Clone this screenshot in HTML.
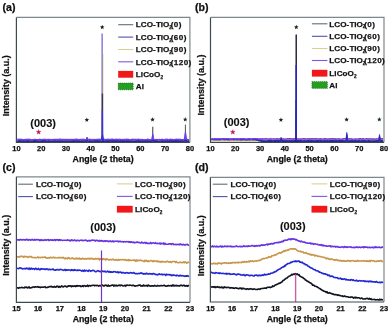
<!DOCTYPE html>
<html><head><meta charset="utf-8"><style>
html,body{margin:0;padding:0;background:#fff;width:391px;height:327px;overflow:hidden}
svg{filter:blur(0.3px)}
svg text{font-family:"Liberation Sans",sans-serif;fill:#111;stroke:#111;stroke-width:0.25px}
</style></head><body>
<svg width="391" height="327" viewBox="0 0 391 327" style="display:block;font-family:'Liberation Sans',sans-serif">
<rect width="391" height="327" fill="#fff"/>
<path d="M17.20,141.42 L18.10,141.77 L19.00,141.73 L19.90,141.48 L20.80,141.60 L21.70,141.57 L22.60,141.68 L23.50,141.74 L24.40,141.40 L25.30,141.36 L26.20,141.77 L27.10,141.57 L28.00,141.73 L28.90,141.35 L29.80,141.57 L30.70,141.71 L31.60,141.46 L32.50,141.82 L33.40,141.80 L34.30,141.37 L35.20,141.36 L36.10,141.62 L37.00,141.82 L37.90,141.54 L38.80,141.46 L39.70,141.56 L40.60,141.36 L41.50,141.46 L42.40,141.57 L43.30,141.60 L44.20,141.47 L45.10,141.47 L46.00,141.46 L46.90,141.58 L47.80,141.49 L48.70,141.36 L49.60,141.77 L50.50,141.63 L51.40,141.67 L52.30,141.44 L53.20,141.85 L54.10,141.78 L55.00,141.41 L55.90,141.52 L56.80,141.71 L57.70,141.71 L58.60,141.82 L59.50,141.56 L60.40,141.77 L61.30,141.69 L62.20,141.50 L63.10,141.64 L64.00,141.79 L64.90,141.77 L65.80,141.60 L66.70,141.64 L67.60,141.37 L68.50,141.47 L69.40,141.75 L70.30,141.56 L71.20,141.44 L72.10,141.62 L73.00,141.70 L73.90,141.69 L74.80,141.54 L75.70,141.57 L76.60,141.60 L77.50,141.74 L78.40,141.61 L79.30,141.55 L80.20,141.59 L81.10,141.36 L82.00,141.37 L82.90,141.70 L83.80,141.84 L84.70,141.65 L85.60,141.55 L86.50,141.44 L87.40,141.60 L88.30,141.84 L89.20,141.74 L90.10,141.62 L91.00,141.78 L91.90,141.47 L92.80,141.61 L93.70,141.83 L94.60,141.64 L95.50,141.58 L96.40,141.48 L97.30,141.62 L98.20,141.83 L99.10,141.35 L100.00,141.74 L100.90,141.76 L101.80,141.79 L102.70,141.72 L103.60,141.75 L104.50,141.61 L105.40,141.63 L106.30,141.56 L107.20,141.38 L108.10,141.79 L109.00,141.63 L109.90,141.45 L110.80,141.60 L111.70,141.59 L112.60,141.53 L113.50,141.52 L114.40,141.62 L115.30,141.66 L116.20,141.66 L117.10,141.58 L118.00,141.36 L118.90,141.46 L119.80,141.44 L120.70,141.64 L121.60,141.78 L122.50,141.75 L123.40,141.75 L124.30,141.76 L125.20,141.48 L126.10,141.77 L127.00,141.69 L127.90,141.39 L128.80,141.36 L129.70,141.36 L130.60,141.73 L131.50,141.47 L132.40,141.40 L133.30,141.66 L134.20,141.52 L135.10,141.38 L136.00,141.43 L136.90,141.61 L137.80,141.43 L138.70,141.49 L139.60,141.71 L140.50,141.58 L141.40,141.51 L142.30,141.59 L143.20,141.36 L144.10,141.54 L145.00,141.56 L145.90,141.44 L146.80,141.40 L147.70,141.80 L148.60,141.61 L149.50,141.45 L150.40,141.65 L151.30,141.76 L152.20,141.36 L153.10,141.36 L154.00,141.42 L154.90,141.71 L155.80,141.43 L156.70,141.70 L157.60,141.69 L158.50,141.62 L159.40,141.46 L160.30,141.84 L161.20,141.75 L162.10,141.61 L163.00,141.46 L163.90,141.67 L164.80,141.55 L165.70,141.64 L166.60,141.51 L167.50,141.67 L168.40,141.38 L169.30,141.50 L170.20,141.83 L171.10,141.79 L172.00,141.50 L172.90,141.78 L173.80,141.51 L174.70,141.82 L175.60,141.72 L176.50,141.56 L177.40,141.48 L178.30,141.35 L179.20,141.79 L180.10,141.37 L181.00,141.76 L181.90,141.83 L182.80,141.64 L183.70,141.44 L184.60,141.78 L185.50,141.84 L186.40,141.70 L187.30,141.60 L188.20,141.54 L189.10,141.52" fill="none" stroke="#1e2030" stroke-width="1.4"/>
<path d="M17.20,140.07 L18.10,140.22 L19.00,140.13 L19.90,140.25 L20.80,140.26 L21.70,139.98 L22.60,139.96 L23.50,140.37 L24.40,140.08 L25.30,140.07 L26.20,140.45 L27.10,140.19 L28.00,140.37 L28.90,140.19 L29.80,140.27 L30.70,140.03 L31.60,140.27 L32.50,140.38 L33.40,140.21 L34.30,140.32 L35.20,140.29 L36.10,139.98 L37.00,140.33 L37.90,140.25 L38.80,140.10 L39.70,139.97 L40.60,140.38 L41.50,140.19 L42.40,140.31 L43.30,140.39 L44.20,140.31 L45.10,140.41 L46.00,140.15 L46.90,140.35 L47.80,140.17 L48.70,140.42 L49.60,140.39 L50.50,140.00 L51.40,140.02 L52.30,140.06 L53.20,140.43 L54.10,140.17 L55.00,140.26 L55.90,140.10 L56.80,140.20 L57.70,140.14 L58.60,140.13 L59.50,140.24 L60.40,140.24 L61.30,140.40 L62.20,140.29 L63.10,140.41 L64.00,140.38 L64.90,140.45 L65.80,140.29 L66.70,140.03 L67.60,140.38 L68.50,140.43 L69.40,140.40 L70.30,140.23 L71.20,140.31 L72.10,140.06 L73.00,140.37 L73.90,140.24 L74.80,140.09 L75.70,139.98 L76.60,140.38 L77.50,140.44 L78.40,139.99 L79.30,140.35 L80.20,140.16 L81.10,140.03 L82.00,140.10 L82.90,140.33 L83.80,140.39 L84.70,139.97 L85.60,140.26 L86.50,139.97 L87.40,140.31 L88.30,140.12 L89.20,140.39 L90.10,140.44 L91.00,140.20 L91.90,140.45 L92.80,140.10 L93.70,139.99 L94.60,140.25 L95.50,139.97 L96.40,140.05 L97.30,140.15 L98.20,140.26 L99.10,140.03 L100.00,139.97 L100.90,140.38 L101.80,140.11 L102.70,140.43 L103.60,140.40 L104.50,140.14 L105.40,140.18 L106.30,140.21 L107.20,140.27 L108.10,140.25 L109.00,140.23 L109.90,140.26 L110.80,140.42 L111.70,140.20 L112.60,140.17 L113.50,140.31 L114.40,140.07 L115.30,140.10 L116.20,140.44 L117.10,140.21 L118.00,140.22 L118.90,139.96 L119.80,140.16 L120.70,140.24 L121.60,139.96 L122.50,140.26 L123.40,140.27 L124.30,139.98 L125.20,140.26 L126.10,140.18 L127.00,140.29 L127.90,140.13 L128.80,140.30 L129.70,140.32 L130.60,139.96 L131.50,139.98 L132.40,140.29 L133.30,140.43 L134.20,140.08 L135.10,140.18 L136.00,140.25 L136.90,140.11 L137.80,140.13 L138.70,140.11 L139.60,140.13 L140.50,140.25 L141.40,140.10 L142.30,140.14 L143.20,140.34 L144.10,139.96 L145.00,140.23 L145.90,140.32 L146.80,140.11 L147.70,140.06 L148.60,140.35 L149.50,140.07 L150.40,140.04 L151.30,140.17 L152.20,140.30 L153.10,140.00 L154.00,140.11 L154.90,140.12 L155.80,140.37 L156.70,140.17 L157.60,140.38 L158.50,140.03 L159.40,140.12 L160.30,140.28 L161.20,140.39 L162.10,140.18 L163.00,140.06 L163.90,140.01 L164.80,140.21 L165.70,140.05 L166.60,140.35 L167.50,140.37 L168.40,140.04 L169.30,140.09 L170.20,140.35 L171.10,140.27 L172.00,140.35 L172.90,140.12 L173.80,140.01 L174.70,140.10 L175.60,140.35 L176.50,140.09 L177.40,140.12 L178.30,140.16 L179.20,140.16 L180.10,140.15 L181.00,140.41 L181.90,140.03 L182.80,139.95 L183.70,140.42 L184.60,140.39 L185.50,140.44 L186.40,140.17 L187.30,140.43 L188.20,140.41 L189.10,140.06" fill="none" stroke="#cc9440" stroke-width="1.4"/>
<path d="M17.20,141.13 L18.10,141.12 L19.00,140.68 L19.90,140.69 L20.80,141.07 L21.70,141.02 L22.60,140.98 L23.50,140.80 L24.40,140.95 L25.30,140.95 L26.20,140.94 L27.10,140.73 L28.00,140.87 L28.90,140.85 L29.80,141.01 L30.70,141.15 L31.60,141.12 L32.50,140.92 L33.40,140.87 L34.30,140.78 L35.20,140.67 L36.10,140.66 L37.00,140.88 L37.90,140.81 L38.80,140.84 L39.70,141.10 L40.60,140.91 L41.50,140.93 L42.40,140.77 L43.30,140.66 L44.20,140.81 L45.10,140.72 L46.00,140.91 L46.90,141.15 L47.80,140.99 L48.70,140.74 L49.60,141.10 L50.50,141.05 L51.40,141.02 L52.30,141.10 L53.20,141.03 L54.10,141.04 L55.00,140.83 L55.90,141.14 L56.80,141.13 L57.70,140.73 L58.60,141.03 L59.50,141.01 L60.40,140.88 L61.30,140.92 L62.20,140.90 L63.10,141.11 L64.00,140.90 L64.90,141.07 L65.80,140.83 L66.70,141.09 L67.60,141.10 L68.50,140.88 L69.40,140.93 L70.30,141.11 L71.20,141.01 L72.10,140.89 L73.00,140.76 L73.90,140.81 L74.80,141.00 L75.70,140.73 L76.60,141.10 L77.50,140.78 L78.40,141.11 L79.30,140.80 L80.20,141.13 L81.10,141.00 L82.00,140.90 L82.90,140.91 L83.80,140.98 L84.70,140.94 L85.60,140.81 L86.50,140.75 L87.40,140.91 L88.30,141.12 L89.20,140.96 L90.10,140.69 L91.00,141.06 L91.90,141.01 L92.80,141.10 L93.70,140.75 L94.60,141.02 L95.50,140.68 L96.40,140.98 L97.30,140.79 L98.20,140.76 L99.10,141.09 L100.00,140.70 L100.90,140.91 L101.80,141.08 L102.70,140.77 L103.60,140.76 L104.50,141.09 L105.40,140.86 L106.30,141.01 L107.20,140.67 L108.10,140.83 L109.00,140.74 L109.90,140.99 L110.80,140.69 L111.70,141.13 L112.60,140.66 L113.50,141.01 L114.40,140.66 L115.30,140.78 L116.20,141.06 L117.10,140.73 L118.00,140.74 L118.90,141.00 L119.80,140.84 L120.70,140.67 L121.60,141.15 L122.50,140.73 L123.40,140.67 L124.30,140.82 L125.20,140.96 L126.10,141.02 L127.00,140.71 L127.90,140.82 L128.80,140.67 L129.70,140.87 L130.60,141.03 L131.50,141.02 L132.40,141.10 L133.30,141.03 L134.20,141.08 L135.10,141.00 L136.00,140.89 L136.90,140.76 L137.80,140.98 L138.70,140.81 L139.60,140.70 L140.50,140.87 L141.40,141.09 L142.30,140.71 L143.20,140.94 L144.10,140.85 L145.00,140.91 L145.90,140.72 L146.80,141.13 L147.70,140.78 L148.60,140.95 L149.50,140.86 L150.40,140.66 L151.30,140.93 L152.20,140.72 L153.10,140.68 L154.00,140.67 L154.90,140.73 L155.80,140.70 L156.70,140.97 L157.60,140.90 L158.50,141.14 L159.40,141.12 L160.30,141.15 L161.20,140.77 L162.10,140.87 L163.00,140.78 L163.90,140.95 L164.80,140.96 L165.70,141.05 L166.60,141.00 L167.50,140.78 L168.40,140.86 L169.30,140.91 L170.20,140.65 L171.10,140.67 L172.00,140.85 L172.90,140.71 L173.80,141.01 L174.70,140.77 L175.60,140.70 L176.50,140.74 L177.40,140.77 L178.30,140.76 L179.20,140.91 L180.10,140.88 L181.00,140.80 L181.90,140.97 L182.80,140.76 L183.70,141.10 L184.60,141.13 L185.50,141.01 L186.40,140.87 L187.30,140.91 L188.20,140.94 L189.10,140.68" fill="none" stroke="#2626c8" stroke-width="1.4"/>
<path d="M17.20,139.37 L18.10,139.30 L19.00,139.45 L19.90,139.33 L20.80,139.28 L21.70,139.45 L22.60,139.71 L23.50,139.65 L24.40,139.63 L25.30,139.36 L26.20,139.52 L27.10,139.39 L28.00,139.34 L28.90,139.30 L29.80,139.36 L30.70,139.71 L31.60,139.66 L32.50,139.65 L33.40,139.65 L34.30,139.35 L35.20,139.40 L36.10,139.56 L37.00,139.62 L37.90,139.68 L38.80,139.69 L39.70,139.29 L40.60,139.55 L41.50,139.59 L42.40,139.50 L43.30,139.34 L44.20,139.49 L45.10,139.29 L46.00,139.72 L46.90,139.68 L47.80,139.52 L48.70,139.40 L49.60,139.70 L50.50,139.54 L51.40,139.69 L52.30,139.67 L53.20,139.50 L54.10,139.46 L55.00,139.55 L55.90,139.47 L56.80,139.33 L57.70,139.40 L58.60,139.66 L59.50,139.27 L60.40,139.27 L61.30,139.56 L62.20,139.39 L63.10,139.52 L64.00,139.49 L64.90,139.42 L65.80,139.75 L66.70,139.35 L67.60,139.46 L68.50,139.35 L69.40,139.57 L70.30,139.39 L71.20,139.43 L72.10,139.62 L73.00,139.41 L73.90,139.53 L74.80,139.70 L75.70,139.30 L76.60,139.28 L77.50,139.36 L78.40,139.63 L79.30,139.56 L80.20,139.37 L81.10,139.42 L82.00,139.34 L82.90,139.48 L83.80,139.27 L84.70,139.60 L85.60,139.70 L86.50,139.73 L87.40,139.62 L88.30,139.73 L89.20,139.26 L90.10,139.39 L91.00,139.73 L91.90,139.64 L92.80,139.46 L93.70,139.72 L94.60,139.56 L95.50,139.66 L96.40,139.40 L97.30,139.35 L98.20,139.47 L99.10,139.32 L100.00,139.44 L100.90,139.73 L101.80,139.42 L102.70,139.25 L103.60,139.27 L104.50,139.33 L105.40,139.64 L106.30,139.43 L107.20,139.40 L108.10,139.30 L109.00,139.74 L109.90,139.46 L110.80,139.35 L111.70,139.28 L112.60,139.28 L113.50,139.33 L114.40,139.59 L115.30,139.32 L116.20,139.27 L117.10,139.50 L118.00,139.37 L118.90,139.75 L119.80,139.31 L120.70,139.51 L121.60,139.64 L122.50,139.45 L123.40,139.74 L124.30,139.49 L125.20,139.37 L126.10,139.46 L127.00,139.27 L127.90,139.46 L128.80,139.37 L129.70,139.69 L130.60,139.67 L131.50,139.50 L132.40,139.27 L133.30,139.38 L134.20,139.37 L135.10,139.35 L136.00,139.37 L136.90,139.68 L137.80,139.32 L138.70,139.28 L139.60,139.71 L140.50,139.53 L141.40,139.75 L142.30,139.45 L143.20,139.70 L144.10,139.58 L145.00,139.65 L145.90,139.62 L146.80,139.50 L147.70,139.30 L148.60,139.36 L149.50,139.69 L150.40,139.70 L151.30,139.71 L152.20,139.42 L153.10,139.58 L154.00,139.65 L154.90,139.57 L155.80,139.66 L156.70,139.51 L157.60,139.58 L158.50,139.59 L159.40,139.38 L160.30,139.71 L161.20,139.73 L162.10,139.29 L163.00,139.74 L163.90,139.73 L164.80,139.58 L165.70,139.27 L166.60,139.70 L167.50,139.31 L168.40,139.73 L169.30,139.58 L170.20,139.28 L171.10,139.33 L172.00,139.57 L172.90,139.53 L173.80,139.62 L174.70,139.71 L175.60,139.36 L176.50,139.25 L177.40,139.71 L178.30,139.26 L179.20,139.69 L180.10,139.31 L181.00,139.65 L181.90,139.64 L182.80,139.69 L183.70,139.53 L184.60,139.69 L185.50,139.35 L186.40,139.59 L187.30,139.42 L188.20,139.70 L189.10,139.64" fill="none" stroke="#7040f0" stroke-width="1.4"/>
<line x1="102.11" y1="33.4" x2="102.11" y2="139.6" stroke="#5c4ed0" stroke-width="1.1"/>
<line x1="102.71" y1="54" x2="102.71" y2="139.6" stroke="#a89068" stroke-width="0.8"/>
<line x1="102.41" y1="93.5" x2="102.41" y2="139.6" stroke="#3a3a48" stroke-width="1.4"/>
<path d="M100.71,140.1 L101.61,134 L101.71,110 L103.01,110 L103.11,134 L104.11,140.1 Z" fill="#3a30e0"/>
<path d="M151.72,140.50 L152.72,135.00 L153.72,140.50" fill="#cc9440" stroke="#cc9440" stroke-width="0.7"/>
<path d="M184.44,140.50 L185.44,133.00 L186.44,140.50" fill="#cc9440" stroke="#cc9440" stroke-width="0.7"/>
<path d="M86.04,140.50 L87.04,138.00 L88.04,140.50" fill="#cc9440" stroke="#cc9440" stroke-width="0.7"/>
<path d="M152.47,141.90 L152.72,126.80 L152.97,141.90" fill="#505868" stroke="#505868" stroke-width="0.8"/>
<path d="M185.19,141.90 L185.44,124.70 L185.69,141.90" fill="#505868" stroke="#505868" stroke-width="0.8"/>
<path d="M86.79,141.90 L87.04,138.50 L87.29,141.90" fill="#505868" stroke="#505868" stroke-width="0.8"/>
<path d="M151.72,141.20 L152.72,134.50 L153.72,141.20" fill="#2626c8" stroke="#2626c8" stroke-width="0.7"/>
<path d="M184.44,141.20 L185.44,132.50 L186.44,141.20" fill="#2626c8" stroke="#2626c8" stroke-width="0.7"/>
<path d="M86.04,141.20 L87.04,137.50 L88.04,141.20" fill="#2626c8" stroke="#2626c8" stroke-width="0.7"/>
<path d="M151.72,139.80 L152.72,133.80 L153.72,139.80" fill="#7040f0" stroke="#7040f0" stroke-width="0.7"/>
<path d="M184.44,139.80 L185.44,131.70 L186.44,139.80" fill="#7040f0" stroke="#7040f0" stroke-width="0.7"/>
<path d="M86.04,139.80 L87.04,137.00 L88.04,139.80" fill="#7040f0" stroke="#7040f0" stroke-width="0.7"/>
<polygon points="102.21,24.80 102.84,26.33 104.49,26.46 103.23,27.53 103.62,29.14 102.21,28.28 100.80,29.14 101.18,27.53 99.92,26.46 101.57,26.33" fill="#142a14"/>
<polygon points="86.84,117.50 87.47,119.03 89.12,119.16 87.87,120.23 88.25,121.84 86.84,120.98 85.43,121.84 85.81,120.23 84.56,119.16 86.20,119.03" fill="#142a14"/>
<polygon points="152.52,117.20 153.16,118.73 154.80,118.86 153.55,119.93 153.93,121.54 152.52,120.68 151.11,121.54 151.49,119.93 150.24,118.86 151.89,118.73" fill="#142a14"/>
<polygon points="185.24,117.10 185.87,118.63 187.52,118.76 186.27,119.83 186.65,121.44 185.24,120.58 183.83,121.44 184.21,119.83 182.96,118.76 184.60,118.63" fill="#142a14"/>
<polygon points="38.61,129.50 39.29,131.15 41.08,131.30 39.72,132.46 40.14,134.20 38.61,133.27 37.08,134.20 37.49,132.46 36.13,131.30 37.92,131.15" fill="#d81830" stroke="#7840c0" stroke-width="0.25"/>
<path d="M16.4,17.4 H189.9 V142.3" fill="none" stroke="#7e888c" stroke-width="1.2"/>
<path d="M16.4,17.4 V142.3 H189.9" fill="none" stroke="#3e4a50" stroke-width="1.2"/>
<text x="16.40" y="151.3" font-size="7.5" font-weight="bold" text-anchor="middle" >10</text>
<text x="41.19" y="151.3" font-size="7.5" font-weight="bold" text-anchor="middle" >20</text>
<text x="65.97" y="151.3" font-size="7.5" font-weight="bold" text-anchor="middle" >30</text>
<text x="90.76" y="151.3" font-size="7.5" font-weight="bold" text-anchor="middle" >40</text>
<text x="115.54" y="151.3" font-size="7.5" font-weight="bold" text-anchor="middle" >50</text>
<text x="140.33" y="151.3" font-size="7.5" font-weight="bold" text-anchor="middle" >60</text>
<text x="165.11" y="151.3" font-size="7.5" font-weight="bold" text-anchor="middle" >70</text>
<text x="189.90" y="151.3" font-size="7.5" font-weight="bold" text-anchor="middle" >80</text>
<text x="103.15" y="162.4" font-size="8.8" font-weight="bold" text-anchor="middle" >Angle (2 theta)</text>
<text transform="translate(9.1,85.8) rotate(-90)" font-size="9" font-weight="bold" text-anchor="middle">Intensity (a.u.)</text>
<text x="2.6" y="10.8" font-size="10.6" font-weight="bold" text-anchor="start" >(a)</text>
<text x="43.20" y="126.5" font-size="11" font-weight="bold" text-anchor="middle" style="stroke-width:0.1px">(003)</text>
<line x1="118.2" y1="24.7" x2="133.2" y2="24.7" stroke="#646e74" stroke-width="1.1"/>
<text x="135.8" y="27.45" font-size="8.1" font-weight="bold" letter-spacing="0.08">LCO-TiO<tspan font-size="4.6" dy="1.9" dx="-0.3" letter-spacing="0">2</tspan><tspan dy="-1.9" dx="-1.0" letter-spacing="0.4">(0)</tspan></text>
<line x1="118.2" y1="37.1" x2="133.2" y2="37.1" stroke="#4c54a8" stroke-width="1.1"/>
<text x="135.8" y="39.85" font-size="8.1" font-weight="bold" letter-spacing="0.08">LCO-TiO<tspan font-size="4.6" dy="1.9" dx="-0.3" letter-spacing="0">2</tspan><tspan dy="-1.9" dx="-1.0" letter-spacing="0.4">(60)</tspan></text>
<line x1="118.2" y1="49.5" x2="133.2" y2="49.5" stroke="#d6d09a" stroke-width="1.1"/>
<text x="135.8" y="52.25" font-size="8.1" font-weight="bold" letter-spacing="0.08">LCO-TiO<tspan font-size="4.6" dy="1.9" dx="-0.3" letter-spacing="0">2</tspan><tspan dy="-1.9" dx="-1.0" letter-spacing="0.4">(90)</tspan></text>
<line x1="118.2" y1="61.8" x2="133.2" y2="61.8" stroke="#8058e0" stroke-width="1.1"/>
<text x="135.8" y="64.55" font-size="8.1" font-weight="bold" letter-spacing="0.08">LCO-TiO<tspan font-size="4.6" dy="1.9" dx="-0.3" letter-spacing="0">2</tspan><tspan dy="-1.9" dx="-1.0" letter-spacing="0.4">(120)</tspan></text>
<rect x="118.2" y="70.89999999999999" width="14.999999999999986" height="6.8" fill="#f01818"/>
<text x="135.8" y="77.05" font-size="8.1" font-weight="bold" letter-spacing="0.08">LiCoO<tspan font-size="4.6" dy="1.9">2</tspan></text>
<rect x="118.2" y="83.0" width="14.999999999999986" height="6.8" fill="#22a022" stroke="#185018" stroke-width="0.6" stroke-dasharray="1,1"/>
<text x="135.8" y="89.15" font-size="8.1" font-weight="bold" letter-spacing="0.08">Al</text>
<path d="M211.30,139.80 L212.20,139.60 L213.10,139.62 L214.00,139.90 L214.90,139.73 L215.80,139.90 L216.70,139.68 L217.60,139.61 L218.50,139.83 L219.40,139.84 L220.30,139.73 L221.20,139.65 L222.10,139.56 L223.00,139.62 L223.90,139.77 L224.80,139.75 L225.70,139.63 L226.60,139.56 L227.50,139.96 L228.40,139.56 L229.30,140.01 L230.20,139.72 L231.10,139.74 L232.00,139.67 L232.90,139.66 L233.80,140.00 L234.70,139.61 L235.60,139.63 L236.50,139.95 L237.40,139.57 L238.30,140.01 L239.20,139.67 L240.10,140.02 L241.00,139.87 L241.90,139.94 L242.80,139.89 L243.70,139.76 L244.60,139.72 L245.50,139.92 L246.40,139.77 L247.30,140.04 L248.20,139.67 L249.10,140.02 L250.00,139.77 L250.90,139.90 L251.80,139.85 L252.70,139.77 L253.60,140.04 L254.50,139.56 L255.40,139.98 L256.30,140.23 L257.20,140.30 L258.10,140.42 L259.00,140.79 L259.90,140.69 L260.80,140.94 L261.70,141.32 L262.60,141.38 L263.50,141.52 L264.40,141.24 L265.30,141.48 L266.20,141.48 L267.10,141.52 L268.00,141.46 L268.90,141.25 L269.80,141.28 L270.70,141.27 L271.60,141.38 L272.50,141.62 L273.40,141.43 L274.30,141.28 L275.20,141.51 L276.10,141.48 L277.00,141.48 L277.90,141.31 L278.80,141.61 L279.70,141.35 L280.60,141.53 L281.50,141.24 L282.40,141.53 L283.30,141.38 L284.20,141.19 L285.10,141.49 L286.00,141.60 L286.90,141.47 L287.80,141.25 L288.70,141.34 L289.60,141.42 L290.50,141.26 L291.40,141.25 L292.30,141.21 L293.20,141.30 L294.10,141.35 L295.00,141.63 L295.90,141.46 L296.80,141.44 L297.70,141.56 L298.60,141.63 L299.50,141.38 L300.40,141.53 L301.30,141.21 L302.20,141.35 L303.10,141.31 L304.00,141.64 L304.90,141.38 L305.80,141.32 L306.70,141.42 L307.60,141.52 L308.50,141.26 L309.40,141.56 L310.30,141.40 L311.20,141.38 L312.10,141.30 L313.00,141.49 L313.90,141.65 L314.80,141.38 L315.70,141.56 L316.60,141.39 L317.50,141.57 L318.40,141.40 L319.30,141.29 L320.20,141.59 L321.10,141.38 L322.00,141.62 L322.90,141.19 L323.80,141.32 L324.70,141.38 L325.60,141.63 L326.50,141.16 L327.40,141.20 L328.30,141.38 L329.20,141.43 L330.10,141.34 L331.00,141.40 L331.90,141.21 L332.80,141.61 L333.70,141.49 L334.60,141.58 L335.50,141.18 L336.40,141.18 L337.30,141.38 L338.20,141.55 L339.10,141.21 L340.00,141.59 L340.90,141.34 L341.80,141.38 L342.70,141.46 L343.60,141.19 L344.50,141.58 L345.40,141.61 L346.30,141.19 L347.20,141.29 L348.10,141.24 L349.00,141.35 L349.90,141.17 L350.80,141.23 L351.70,141.60 L352.60,141.48 L353.50,141.46 L354.40,141.50 L355.30,141.28 L356.20,141.21 L357.10,141.64 L358.00,141.29 L358.90,141.41 L359.80,141.61 L360.70,141.17 L361.60,141.55 L362.50,141.51 L363.40,141.64 L364.30,141.22 L365.20,141.50 L366.10,141.59 L367.00,141.34 L367.90,141.62 L368.80,141.64 L369.70,141.17 L370.60,141.57 L371.50,141.52 L372.40,141.63 L373.30,141.46 L374.20,141.48 L375.10,141.41 L376.00,141.19 L376.90,141.23 L377.80,141.28 L378.70,141.37 L379.60,141.28 L380.50,141.26 L381.40,141.61 L382.30,141.59 L383.20,141.58" fill="none" stroke="#1e2030" stroke-width="1.4"/>
<path d="M211.30,139.57 L212.20,139.70 L213.10,139.86 L214.00,139.89 L214.90,139.66 L215.80,139.60 L216.70,139.67 L217.60,139.72 L218.50,139.87 L219.40,139.64 L220.30,139.77 L221.20,139.50 L222.10,139.83 L223.00,139.47 L223.90,139.69 L224.80,139.93 L225.70,139.75 L226.60,139.82 L227.50,139.81 L228.40,139.94 L229.30,139.75 L230.20,139.68 L231.10,139.87 L232.00,139.86 L232.90,139.93 L233.80,139.55 L234.70,139.66 L235.60,139.87 L236.50,139.63 L237.40,139.77 L238.30,139.78 L239.20,139.74 L240.10,139.60 L241.00,139.94 L241.90,139.49 L242.80,139.58 L243.70,139.89 L244.60,139.63 L245.50,139.84 L246.40,139.87 L247.30,139.80 L248.20,139.54 L249.10,139.61 L250.00,139.45 L250.90,139.62 L251.80,139.63 L252.70,139.81 L253.60,139.83 L254.50,139.76 L255.40,139.70 L256.30,139.75 L257.20,139.80 L258.10,139.48 L259.00,139.78 L259.90,139.79 L260.80,139.56 L261.70,139.45 L262.60,139.67 L263.50,139.62 L264.40,139.49 L265.30,139.92 L266.20,139.79 L267.10,139.59 L268.00,139.72 L268.90,139.94 L269.80,139.61 L270.70,139.50 L271.60,139.77 L272.50,139.80 L273.40,139.52 L274.30,139.68 L275.20,139.93 L276.10,139.52 L277.00,139.55 L277.90,139.49 L278.80,139.73 L279.70,139.46 L280.60,139.85 L281.50,139.83 L282.40,139.51 L283.30,139.51 L284.20,139.92 L285.10,139.62 L286.00,139.76 L286.90,139.54 L287.80,139.95 L288.70,139.87 L289.60,139.54 L290.50,139.52 L291.40,139.63 L292.30,139.46 L293.20,139.57 L294.10,139.52 L295.00,139.55 L295.90,139.85 L296.80,139.67 L297.70,139.73 L298.60,139.85 L299.50,139.65 L300.40,139.55 L301.30,139.63 L302.20,139.67 L303.10,139.49 L304.00,139.61 L304.90,139.56 L305.80,139.59 L306.70,139.71 L307.60,139.59 L308.50,139.84 L309.40,139.58 L310.30,139.47 L311.20,139.61 L312.10,139.65 L313.00,139.81 L313.90,139.59 L314.80,139.59 L315.70,139.82 L316.60,139.77 L317.50,139.56 L318.40,139.87 L319.30,139.55 L320.20,139.76 L321.10,139.79 L322.00,139.59 L322.90,139.51 L323.80,139.47 L324.70,139.49 L325.60,139.45 L326.50,139.53 L327.40,139.75 L328.30,139.49 L329.20,139.81 L330.10,139.79 L331.00,139.55 L331.90,139.83 L332.80,139.80 L333.70,139.65 L334.60,139.50 L335.50,139.71 L336.40,139.59 L337.30,139.84 L338.20,139.66 L339.10,139.50 L340.00,139.46 L340.90,139.68 L341.80,139.63 L342.70,139.50 L343.60,139.81 L344.50,139.93 L345.40,139.86 L346.30,139.85 L347.20,139.62 L348.10,139.64 L349.00,139.68 L349.90,139.63 L350.80,139.70 L351.70,139.63 L352.60,139.83 L353.50,139.71 L354.40,139.93 L355.30,139.94 L356.20,139.77 L357.10,139.46 L358.00,139.66 L358.90,139.67 L359.80,139.63 L360.70,139.60 L361.60,139.57 L362.50,139.78 L363.40,139.80 L364.30,139.71 L365.20,139.79 L366.10,139.85 L367.00,139.65 L367.90,139.61 L368.80,139.55 L369.70,139.82 L370.60,139.52 L371.50,139.74 L372.40,139.56 L373.30,139.73 L374.20,139.59 L375.10,139.64 L376.00,139.91 L376.90,139.80 L377.80,139.83 L378.70,139.66 L379.60,139.45 L380.50,139.54 L381.40,139.57 L382.30,139.90 L383.20,139.50" fill="none" stroke="#cc9440" stroke-width="1.4"/>
<path d="M211.30,139.36 L212.20,139.03 L213.10,139.39 L214.00,139.14 L214.90,139.04 L215.80,139.19 L216.70,139.30 L217.60,139.11 L218.50,139.26 L219.40,139.45 L220.30,139.33 L221.20,139.03 L222.10,139.20 L223.00,139.07 L223.90,139.01 L224.80,139.39 L225.70,139.13 L226.60,139.24 L227.50,139.41 L228.40,139.07 L229.30,139.35 L230.20,139.12 L231.10,139.02 L232.00,139.34 L232.90,139.41 L233.80,139.15 L234.70,138.98 L235.60,139.26 L236.50,139.16 L237.40,139.29 L238.30,139.08 L239.20,139.12 L240.10,139.16 L241.00,139.41 L241.90,139.09 L242.80,139.32 L243.70,139.34 L244.60,138.98 L245.50,139.27 L246.40,139.45 L247.30,139.20 L248.20,139.26 L249.10,139.00 L250.00,139.08 L250.90,139.15 L251.80,139.28 L252.70,139.16 L253.60,139.19 L254.50,139.26 L255.40,139.19 L256.30,139.30 L257.20,139.49 L258.10,139.75 L259.00,140.19 L259.90,140.25 L260.80,140.66 L261.70,140.61 L262.60,140.98 L263.50,140.97 L264.40,140.87 L265.30,141.04 L266.20,140.98 L267.10,140.86 L268.00,140.86 L268.90,140.76 L269.80,140.76 L270.70,140.63 L271.60,140.64 L272.50,141.01 L273.40,141.00 L274.30,140.64 L275.20,140.60 L276.10,140.69 L277.00,140.68 L277.90,140.98 L278.80,140.55 L279.70,140.83 L280.60,140.65 L281.50,140.89 L282.40,140.80 L283.30,140.81 L284.20,141.05 L285.10,140.55 L286.00,141.02 L286.90,140.81 L287.80,140.86 L288.70,140.93 L289.60,140.63 L290.50,140.84 L291.40,140.98 L292.30,140.69 L293.20,141.04 L294.10,140.71 L295.00,140.73 L295.90,140.58 L296.80,140.57 L297.70,140.85 L298.60,140.56 L299.50,141.00 L300.40,140.80 L301.30,140.75 L302.20,140.93 L303.10,140.99 L304.00,141.02 L304.90,140.77 L305.80,141.03 L306.70,140.86 L307.60,140.76 L308.50,140.79 L309.40,140.99 L310.30,140.72 L311.20,140.68 L312.10,140.76 L313.00,141.02 L313.90,140.63 L314.80,140.88 L315.70,140.76 L316.60,140.60 L317.50,140.72 L318.40,140.59 L319.30,141.03 L320.20,140.85 L321.10,140.57 L322.00,140.92 L322.90,140.93 L323.80,140.92 L324.70,140.58 L325.60,140.92 L326.50,140.96 L327.40,140.73 L328.30,140.85 L329.20,141.03 L330.10,140.66 L331.00,140.62 L331.90,140.72 L332.80,140.58 L333.70,140.68 L334.60,141.02 L335.50,140.69 L336.40,140.71 L337.30,140.83 L338.20,140.62 L339.10,140.93 L340.00,140.59 L340.90,140.73 L341.80,140.80 L342.70,140.62 L343.60,140.92 L344.50,141.03 L345.40,140.98 L346.30,140.68 L347.20,141.01 L348.10,141.00 L349.00,140.95 L349.90,140.83 L350.80,140.78 L351.70,140.95 L352.60,140.56 L353.50,140.94 L354.40,140.82 L355.30,140.57 L356.20,140.89 L357.10,141.01 L358.00,140.85 L358.90,140.59 L359.80,140.81 L360.70,141.02 L361.60,140.97 L362.50,140.70 L363.40,140.84 L364.30,140.56 L365.20,140.89 L366.10,140.96 L367.00,140.88 L367.90,140.97 L368.80,140.60 L369.70,140.82 L370.60,141.01 L371.50,141.03 L372.40,141.02 L373.30,140.89 L374.20,140.85 L375.10,141.03 L376.00,140.65 L376.90,140.89 L377.80,140.67 L378.70,140.94 L379.60,140.68 L380.50,140.90 L381.40,140.76 L382.30,140.82 L383.20,140.89" fill="none" stroke="#2626c8" stroke-width="1.4"/>
<path d="M211.30,139.11 L212.20,138.82 L213.10,139.14 L214.00,138.81 L214.90,138.65 L215.80,138.73 L216.70,138.84 L217.60,139.12 L218.50,138.68 L219.40,138.85 L220.30,138.84 L221.20,138.96 L222.10,138.96 L223.00,138.92 L223.90,138.73 L224.80,138.97 L225.70,138.75 L226.60,138.68 L227.50,138.89 L228.40,138.85 L229.30,138.98 L230.20,139.00 L231.10,138.86 L232.00,139.06 L232.90,138.73 L233.80,138.73 L234.70,138.79 L235.60,138.95 L236.50,138.86 L237.40,138.94 L238.30,139.01 L239.20,138.98 L240.10,138.87 L241.00,138.68 L241.90,138.92 L242.80,138.84 L243.70,138.66 L244.60,139.13 L245.50,139.14 L246.40,139.10 L247.30,139.13 L248.20,138.74 L249.10,138.87 L250.00,138.82 L250.90,139.00 L251.80,139.11 L252.70,138.92 L253.60,138.78 L254.50,138.68 L255.40,138.76 L256.30,138.91 L257.20,138.74 L258.10,138.83 L259.00,139.05 L259.90,138.99 L260.80,138.77 L261.70,139.13 L262.60,138.82 L263.50,138.93 L264.40,138.87 L265.30,138.76 L266.20,138.67 L267.10,138.86 L268.00,138.95 L268.90,138.95 L269.80,139.15 L270.70,138.65 L271.60,139.13 L272.50,139.09 L273.40,138.82 L274.30,138.90 L275.20,139.13 L276.10,138.67 L277.00,138.97 L277.90,138.73 L278.80,139.05 L279.70,138.69 L280.60,139.08 L281.50,138.96 L282.40,139.15 L283.30,138.80 L284.20,139.09 L285.10,139.00 L286.00,139.09 L286.90,138.84 L287.80,138.67 L288.70,138.75 L289.60,138.75 L290.50,138.70 L291.40,139.01 L292.30,138.70 L293.20,139.13 L294.10,138.81 L295.00,138.80 L295.90,138.77 L296.80,138.81 L297.70,138.89 L298.60,138.99 L299.50,138.98 L300.40,139.00 L301.30,139.03 L302.20,138.89 L303.10,138.66 L304.00,138.73 L304.90,138.75 L305.80,138.83 L306.70,139.09 L307.60,138.67 L308.50,139.05 L309.40,138.81 L310.30,138.98 L311.20,138.77 L312.10,138.80 L313.00,138.70 L313.90,138.85 L314.80,138.78 L315.70,138.77 L316.60,138.72 L317.50,138.88 L318.40,138.86 L319.30,138.97 L320.20,138.82 L321.10,138.93 L322.00,138.85 L322.90,138.85 L323.80,138.97 L324.70,138.72 L325.60,138.73 L326.50,138.95 L327.40,138.90 L328.30,139.08 L329.20,138.83 L330.10,139.05 L331.00,138.67 L331.90,138.76 L332.80,138.75 L333.70,138.72 L334.60,138.99 L335.50,138.82 L336.40,139.06 L337.30,139.00 L338.20,138.90 L339.10,138.69 L340.00,139.12 L340.90,139.08 L341.80,139.07 L342.70,138.99 L343.60,138.70 L344.50,138.79 L345.40,138.79 L346.30,138.74 L347.20,138.90 L348.10,138.66 L349.00,138.84 L349.90,138.81 L350.80,139.07 L351.70,138.76 L352.60,139.12 L353.50,139.11 L354.40,139.06 L355.30,138.98 L356.20,139.04 L357.10,139.14 L358.00,139.14 L358.90,138.74 L359.80,138.67 L360.70,138.74 L361.60,139.10 L362.50,138.71 L363.40,138.80 L364.30,139.13 L365.20,138.93 L366.10,138.69 L367.00,138.73 L367.90,139.04 L368.80,138.87 L369.70,138.81 L370.60,138.92 L371.50,138.97 L372.40,138.93 L373.30,139.00 L374.20,138.99 L375.10,139.01 L376.00,139.12 L376.90,138.75 L377.80,138.91 L378.70,138.95 L379.60,139.09 L380.50,138.83 L381.40,138.72 L382.30,138.70 L383.20,139.01" fill="none" stroke="#7040f0" stroke-width="1.4"/>
<path d="M295.91,140.00 L296.21,110.00 L296.51,140.00" fill="#cc9440" stroke="#cc9440" stroke-width="1.0"/>
<path d="M345.82,140.00 L346.82,135.50 L347.82,140.00" fill="#cc9440" stroke="#cc9440" stroke-width="0.7"/>
<path d="M378.54,140.00 L379.54,136.50 L380.54,140.00" fill="#cc9440" stroke="#cc9440" stroke-width="0.7"/>
<path d="M280.14,140.00 L281.14,138.00 L282.14,140.00" fill="#cc9440" stroke="#cc9440" stroke-width="0.7"/>
<path d="M295.91,139.20 L296.21,100.00 L296.51,139.20" fill="#7040f0" stroke="#7040f0" stroke-width="1.0"/>
<path d="M345.82,139.20 L346.82,135.00 L347.82,139.20" fill="#7040f0" stroke="#7040f0" stroke-width="0.7"/>
<path d="M378.54,139.20 L379.54,136.00 L380.54,139.20" fill="#7040f0" stroke="#7040f0" stroke-width="0.7"/>
<path d="M280.14,139.20 L281.14,138.00 L282.14,139.20" fill="#7040f0" stroke="#7040f0" stroke-width="0.7"/>
<path d="M295.91,141.70 L296.21,34.60 L296.51,141.70" fill="#1e2030" stroke="#1e2030" stroke-width="1.0"/>
<path d="M346.57,141.70 L346.82,134.00 L347.07,141.70" fill="#505868" stroke="#505868" stroke-width="0.8"/>
<path d="M379.29,141.70 L379.54,135.50 L379.79,141.70" fill="#505868" stroke="#505868" stroke-width="0.8"/>
<path d="M280.89,141.70 L281.14,138.00 L281.39,141.70" fill="#505868" stroke="#505868" stroke-width="0.8"/>
<path d="M295.91,141.10 L296.21,65.00 L296.51,141.10" fill="#2626c8" stroke="#2626c8" stroke-width="1.0"/>
<path d="M345.82,141.10 L346.82,132.40 L347.82,141.10" fill="#2626c8" stroke="#2626c8" stroke-width="0.7"/>
<path d="M378.54,141.10 L379.54,134.50 L380.54,141.10" fill="#2626c8" stroke="#2626c8" stroke-width="0.7"/>
<path d="M280.14,141.10 L281.14,137.20 L282.14,141.10" fill="#2626c8" stroke="#2626c8" stroke-width="0.7"/>
<polygon points="296.31,24.80 296.94,26.33 298.59,26.46 297.33,27.53 297.72,29.14 296.31,28.28 294.90,29.14 295.28,27.53 294.02,26.46 295.67,26.33" fill="#142a14"/>
<polygon points="280.94,117.50 281.57,119.03 283.22,119.16 281.97,120.23 282.35,121.84 280.94,120.98 279.53,121.84 279.91,120.23 278.66,119.16 280.30,119.03" fill="#142a14"/>
<polygon points="346.62,117.20 347.26,118.73 348.90,118.86 347.65,119.93 348.03,121.54 346.62,120.68 345.21,121.54 345.59,119.93 344.34,118.86 345.99,118.73" fill="#142a14"/>
<polygon points="379.34,117.10 379.97,118.63 381.62,118.76 380.37,119.83 380.75,121.44 379.34,120.58 377.93,121.44 378.31,119.83 377.06,118.76 378.70,118.63" fill="#142a14"/>
<polygon points="232.81,129.50 233.49,131.15 235.28,131.30 233.92,132.46 234.34,134.20 232.81,133.27 231.28,134.20 231.69,132.46 230.33,131.30 232.12,131.15" fill="#d81830" stroke="#7840c0" stroke-width="0.25"/>
<path d="M210.5,17.4 H384.0 V142.3" fill="none" stroke="#7e888c" stroke-width="1.2"/>
<path d="M210.5,17.4 V142.3 H384.0" fill="none" stroke="#3e4a50" stroke-width="1.2"/>
<text x="210.50" y="151.3" font-size="7.5" font-weight="bold" text-anchor="middle" >10</text>
<text x="235.29" y="151.3" font-size="7.5" font-weight="bold" text-anchor="middle" >20</text>
<text x="260.07" y="151.3" font-size="7.5" font-weight="bold" text-anchor="middle" >30</text>
<text x="284.86" y="151.3" font-size="7.5" font-weight="bold" text-anchor="middle" >40</text>
<text x="309.64" y="151.3" font-size="7.5" font-weight="bold" text-anchor="middle" >50</text>
<text x="334.43" y="151.3" font-size="7.5" font-weight="bold" text-anchor="middle" >60</text>
<text x="359.21" y="151.3" font-size="7.5" font-weight="bold" text-anchor="middle" >70</text>
<text x="384.00" y="151.3" font-size="7.5" font-weight="bold" text-anchor="middle" >80</text>
<text x="297.25" y="162.4" font-size="8.8" font-weight="bold" text-anchor="middle" >Angle (2 theta)</text>
<text transform="translate(204.4,85.0) rotate(-90)" font-size="9" font-weight="bold" text-anchor="middle">Intensity (a.u.)</text>
<text x="195.0" y="10.8" font-size="10.6" font-weight="bold" text-anchor="start" >(b)</text>
<text x="236.60" y="126.0" font-size="11" font-weight="bold" text-anchor="middle" style="stroke-width:0.1px">(003)</text>
<line x1="311.9" y1="23.8" x2="327.4" y2="23.8" stroke="#646e74" stroke-width="1.1"/>
<text x="329.3" y="26.55" font-size="8.1" font-weight="bold" letter-spacing="0.08">LCO-TiO<tspan font-size="4.6" dy="1.9" dx="-0.3" letter-spacing="0">2</tspan><tspan dy="-1.9" dx="-1.0" letter-spacing="0.4">(0)</tspan></text>
<line x1="311.9" y1="36.3" x2="327.4" y2="36.3" stroke="#4c54a8" stroke-width="1.1"/>
<text x="329.3" y="39.05" font-size="8.1" font-weight="bold" letter-spacing="0.08">LCO-TiO<tspan font-size="4.6" dy="1.9" dx="-0.3" letter-spacing="0">2</tspan><tspan dy="-1.9" dx="-1.0" letter-spacing="0.4">(60)</tspan></text>
<line x1="311.9" y1="48.5" x2="327.4" y2="48.5" stroke="#d6d09a" stroke-width="1.1"/>
<text x="329.3" y="51.25" font-size="8.1" font-weight="bold" letter-spacing="0.08">LCO-TiO<tspan font-size="4.6" dy="1.9" dx="-0.3" letter-spacing="0">2</tspan><tspan dy="-1.9" dx="-1.0" letter-spacing="0.4">(90)</tspan></text>
<line x1="311.9" y1="60.5" x2="327.4" y2="60.5" stroke="#8058e0" stroke-width="1.1"/>
<text x="329.3" y="63.25" font-size="8.1" font-weight="bold" letter-spacing="0.08">LCO-TiO<tspan font-size="4.6" dy="1.9" dx="-0.3" letter-spacing="0">2</tspan><tspan dy="-1.9" dx="-1.0" letter-spacing="0.4">(120)</tspan></text>
<rect x="311.9" y="69.8" width="15.5" height="6.8" fill="#f01818"/>
<text x="329.3" y="75.95" font-size="8.1" font-weight="bold" letter-spacing="0.08">LiCoO<tspan font-size="4.6" dy="1.9">2</tspan></text>
<rect x="311.9" y="81.6" width="15.5" height="6.8" fill="#22a022" stroke="#185018" stroke-width="0.6" stroke-dasharray="1,1"/>
<text x="329.3" y="87.75" font-size="8.1" font-weight="bold" letter-spacing="0.08">Al</text>
<path d="M17.00,287.73 L17.80,287.83 L18.60,288.21 L19.40,287.68 L20.20,287.70 L21.00,287.77 L21.80,287.30 L22.60,287.64 L23.40,287.75 L24.20,287.91 L25.00,287.12 L25.80,287.33 L26.60,287.07 L27.40,287.84 L28.20,287.69 L29.00,286.95 L29.80,287.96 L30.60,287.92 L31.40,287.56 L32.20,287.49 L33.00,286.97 L33.80,286.79 L34.60,287.33 L35.40,286.79 L36.20,286.91 L37.00,286.95 L37.80,286.69 L38.60,287.15 L39.40,287.10 L40.20,287.52 L41.00,287.14 L41.80,287.26 L42.60,287.08 L43.40,287.24 L44.20,286.99 L45.00,286.77 L45.80,287.54 L46.60,287.51 L47.40,287.32 L48.20,287.15 L49.00,286.70 L49.80,286.58 L50.60,286.63 L51.40,286.36 L52.20,287.11 L53.00,286.68 L53.80,287.15 L54.60,286.62 L55.40,287.23 L56.20,287.09 L57.00,286.13 L57.80,286.34 L58.60,287.09 L59.40,286.58 L60.20,287.12 L61.00,286.46 L61.80,286.08 L62.60,286.67 L63.40,286.81 L64.20,286.23 L65.00,286.01 L65.80,286.26 L66.60,286.93 L67.40,286.68 L68.20,285.95 L69.00,286.07 L69.80,285.89 L70.60,285.82 L71.40,286.61 L72.20,285.91 L73.00,286.31 L73.80,286.16 L74.60,285.86 L75.40,286.43 L76.20,285.75 L77.00,286.29 L77.80,285.69 L78.60,286.00 L79.40,285.75 L80.20,285.79 L81.00,286.54 L81.80,286.33 L82.60,285.76 L83.40,286.38 L84.20,285.62 L85.00,285.80 L85.80,286.28 L86.60,286.02 L87.40,285.41 L88.20,286.36 L89.00,285.49 L89.80,285.51 L90.60,286.06 L91.40,285.55 L92.20,285.49 L93.00,285.22 L93.80,285.22 L94.60,285.74 L95.40,285.34 L96.20,285.72 L97.00,285.44 L97.80,285.51 L98.60,286.04 L99.40,285.50 L100.20,285.58 L101.00,285.91 L101.80,285.16 L102.60,285.13 L103.40,285.96 L104.20,285.86 L105.00,285.24 L105.80,285.17 L106.60,285.78 L107.40,286.00 L108.20,285.18 L109.00,286.02 L109.80,285.94 L110.60,285.64 L111.40,285.44 L112.20,285.09 L113.00,285.02 L113.80,286.04 L114.60,285.24 L115.40,285.76 L116.20,285.27 L117.00,285.89 L117.80,285.65 L118.60,285.31 L119.40,285.19 L120.20,285.79 L121.00,285.07 L121.80,285.25 L122.60,285.62 L123.40,285.94 L124.20,285.68 L125.00,285.31 L125.80,286.02 L126.60,285.23 L127.40,285.03 L128.20,285.31 L129.00,285.50 L129.80,285.08 L130.60,285.21 L131.40,285.43 L132.20,285.65 L133.00,285.17 L133.80,285.42 L134.60,286.01 L135.40,286.11 L136.20,285.75 L137.00,285.79 L137.80,285.68 L138.60,285.19 L139.40,285.08 L140.20,285.06 L141.00,286.04 L141.80,285.81 L142.60,286.10 L143.40,285.07 L144.20,285.75 L145.00,285.58 L145.80,285.86 L146.60,285.40 L147.40,286.15 L148.20,285.14 L149.00,285.66 L149.80,285.87 L150.60,286.05 L151.40,285.88 L152.20,285.84 L153.00,285.94 L153.80,286.08 L154.60,285.46 L155.40,285.83 L156.20,286.07 L157.00,286.03 L157.80,285.54 L158.60,285.95 L159.40,286.03 L160.20,285.71 L161.00,285.77 L161.80,285.51 L162.60,285.73 L163.40,285.76 L164.20,285.18 L165.00,285.80 L165.80,286.19 L166.60,286.07 L167.40,285.90 L168.20,285.53 L169.00,285.91 L169.80,285.74 L170.60,285.59 L171.40,286.03 L172.20,285.20 L173.00,285.94 L173.80,285.15 L174.60,285.78 L175.40,285.65 L176.20,285.37 L177.00,285.89 L177.80,285.67 L178.60,285.80 L179.40,286.14 L180.20,285.41 L181.00,285.14 L181.80,285.46 L182.60,285.88 L183.40,285.36 L184.20,285.32 L185.00,286.14 L185.80,285.87 L186.60,285.63 L187.40,286.13 L188.20,285.51 L189.00,285.88" fill="none" stroke="#121420" stroke-width="1.65"/>
<path d="M17.00,268.29 L17.80,268.52 L18.60,268.56 L19.40,268.01 L20.20,267.89 L21.00,268.32 L21.80,268.24 L22.60,268.86 L23.40,268.75 L24.20,268.68 L25.00,268.66 L25.80,268.80 L26.60,268.26 L27.40,268.62 L28.20,268.34 L29.00,269.18 L29.80,268.28 L30.60,269.14 L31.40,268.35 L32.20,269.05 L33.00,268.70 L33.80,268.80 L34.60,269.31 L35.40,268.43 L36.20,268.50 L37.00,269.47 L37.80,269.05 L38.60,268.62 L39.40,269.63 L40.20,269.62 L41.00,268.73 L41.80,269.10 L42.60,268.81 L43.40,269.03 L44.20,269.40 L45.00,268.92 L45.80,269.54 L46.60,268.85 L47.40,269.01 L48.20,269.75 L49.00,269.32 L49.80,269.37 L50.60,269.59 L51.40,269.49 L52.20,269.41 L53.00,269.05 L53.80,269.85 L54.60,270.14 L55.40,270.18 L56.20,269.86 L57.00,269.55 L57.80,269.59 L58.60,269.97 L59.40,269.98 L60.20,269.39 L61.00,269.56 L61.80,269.72 L62.60,269.92 L63.40,270.27 L64.20,269.96 L65.00,269.47 L65.80,270.37 L66.60,269.96 L67.40,270.09 L68.20,269.79 L69.00,270.04 L69.80,270.03 L70.60,270.48 L71.40,269.77 L72.20,270.29 L73.00,269.91 L73.80,270.51 L74.60,269.81 L75.40,270.10 L76.20,270.20 L77.00,270.55 L77.80,269.94 L78.60,270.41 L79.40,270.17 L80.20,270.27 L81.00,270.51 L81.80,271.07 L82.60,270.58 L83.40,271.13 L84.20,270.29 L85.00,271.15 L85.80,270.56 L86.60,270.39 L87.40,271.04 L88.20,271.24 L89.00,270.28 L89.80,270.59 L90.60,271.17 L91.40,270.73 L92.20,270.65 L93.00,270.42 L93.80,270.48 L94.60,271.14 L95.40,271.57 L96.20,271.62 L97.00,271.10 L97.80,270.60 L98.60,270.96 L99.40,271.50 L100.20,271.58 L101.00,271.41 L101.80,271.00 L102.60,271.37 L103.40,271.36 L104.20,271.57 L105.00,271.21 L105.80,272.01 L106.60,271.99 L107.40,271.23 L108.20,271.42 L109.00,272.10 L109.80,271.49 L110.60,272.27 L111.40,271.84 L112.20,272.08 L113.00,272.13 L113.80,271.64 L114.60,271.76 L115.40,271.77 L116.20,272.28 L117.00,272.34 L117.80,271.76 L118.60,272.64 L119.40,272.17 L120.20,272.02 L121.00,272.27 L121.80,272.91 L122.60,272.50 L123.40,272.61 L124.20,272.98 L125.00,273.07 L125.80,272.89 L126.60,272.56 L127.40,272.79 L128.20,273.18 L129.00,273.10 L129.80,272.91 L130.60,272.70 L131.40,272.76 L132.20,273.21 L133.00,273.07 L133.80,272.51 L134.60,273.31 L135.40,273.57 L136.20,273.50 L137.00,273.65 L137.80,273.71 L138.60,273.34 L139.40,273.66 L140.20,273.26 L141.00,272.99 L141.80,273.31 L142.60,273.31 L143.40,274.04 L144.20,273.81 L145.00,273.70 L145.80,273.83 L146.60,273.32 L147.40,273.82 L148.20,274.04 L149.00,273.75 L149.80,273.63 L150.60,273.85 L151.40,273.80 L152.20,274.25 L153.00,273.69 L153.80,273.68 L154.60,273.97 L155.40,274.43 L156.20,274.55 L157.00,274.48 L157.80,274.83 L158.60,274.24 L159.40,273.92 L160.20,274.46 L161.00,274.46 L161.80,274.21 L162.60,274.79 L163.40,274.48 L164.20,274.41 L165.00,274.55 L165.80,275.27 L166.60,274.28 L167.40,274.72 L168.20,274.67 L169.00,274.63 L169.80,274.93 L170.60,274.74 L171.40,275.55 L172.20,275.13 L173.00,275.39 L173.80,274.85 L174.60,275.22 L175.40,275.42 L176.20,275.73 L177.00,275.12 L177.80,275.39 L178.60,275.87 L179.40,275.89 L180.20,275.27 L181.00,275.65 L181.80,275.94 L182.60,275.58 L183.40,275.93 L184.20,275.96 L185.00,276.35 L185.80,275.93 L186.60,276.11 L187.40,275.79 L188.20,276.26 L189.00,275.85" fill="none" stroke="#2428d4" stroke-width="1.65"/>
<path d="M17.00,256.33 L17.80,256.87 L18.60,256.89 L19.40,257.11 L20.20,256.34 L21.00,256.42 L21.80,256.34 L22.60,256.46 L23.40,257.10 L24.20,256.40 L25.00,256.91 L25.80,256.55 L26.60,256.67 L27.40,256.86 L28.20,257.37 L29.00,257.12 L29.80,256.43 L30.60,256.77 L31.40,256.64 L32.20,257.54 L33.00,257.49 L33.80,257.51 L34.60,257.56 L35.40,257.48 L36.20,257.75 L37.00,257.59 L37.80,256.97 L38.60,257.71 L39.40,257.30 L40.20,257.65 L41.00,257.44 L41.80,257.31 L42.60,257.25 L43.40,257.36 L44.20,257.24 L45.00,257.03 L45.80,257.90 L46.60,257.90 L47.40,258.15 L48.20,257.82 L49.00,257.68 L49.80,257.94 L50.60,257.23 L51.40,257.90 L52.20,257.65 L53.00,257.35 L53.80,257.41 L54.60,257.82 L55.40,257.52 L56.20,257.79 L57.00,257.99 L57.80,257.76 L58.60,257.47 L59.40,257.93 L60.20,257.64 L61.00,257.67 L61.80,257.65 L62.60,257.88 L63.40,257.55 L64.20,258.27 L65.00,258.66 L65.80,258.00 L66.60,258.42 L67.40,258.71 L68.20,257.66 L69.00,257.81 L69.80,258.63 L70.60,258.69 L71.40,258.48 L72.20,257.93 L73.00,258.26 L73.80,258.83 L74.60,258.87 L75.40,258.80 L76.20,258.10 L77.00,258.91 L77.80,258.36 L78.60,258.79 L79.40,258.12 L80.20,259.15 L81.00,258.73 L81.80,258.90 L82.60,258.31 L83.40,258.82 L84.20,258.81 L85.00,258.84 L85.80,258.59 L86.60,259.06 L87.40,258.62 L88.20,258.59 L89.00,258.46 L89.80,259.10 L90.60,258.44 L91.40,258.60 L92.20,258.44 L93.00,259.15 L93.80,259.07 L94.60,259.08 L95.40,258.50 L96.20,259.01 L97.00,258.92 L97.80,258.64 L98.60,258.56 L99.40,259.78 L100.20,258.75 L101.00,259.00 L101.80,258.99 L102.60,259.41 L103.40,258.82 L104.20,259.32 L105.00,259.23 L105.80,259.82 L106.60,258.86 L107.40,259.28 L108.20,259.51 L109.00,260.10 L109.80,259.59 L110.60,259.57 L111.40,259.83 L112.20,259.42 L113.00,259.13 L113.80,259.72 L114.60,260.24 L115.40,260.07 L116.20,259.52 L117.00,260.06 L117.80,260.29 L118.60,259.61 L119.40,260.04 L120.20,259.79 L121.00,259.69 L121.80,259.77 L122.60,259.70 L123.40,259.90 L124.20,259.56 L125.00,260.02 L125.80,259.68 L126.60,260.51 L127.40,260.35 L128.20,259.67 L129.00,260.62 L129.80,259.95 L130.60,260.33 L131.40,260.45 L132.20,260.22 L133.00,260.19 L133.80,260.40 L134.60,260.07 L135.40,260.97 L136.20,260.10 L137.00,260.99 L137.80,260.29 L138.60,260.42 L139.40,260.55 L140.20,260.16 L141.00,260.30 L141.80,260.61 L142.60,260.74 L143.40,261.29 L144.20,261.46 L145.00,260.35 L145.80,260.97 L146.60,260.52 L147.40,261.36 L148.20,260.81 L149.00,261.52 L149.80,261.14 L150.60,260.66 L151.40,260.55 L152.20,260.87 L153.00,261.64 L153.80,260.81 L154.60,261.24 L155.40,261.14 L156.20,261.14 L157.00,261.72 L157.80,261.04 L158.60,261.68 L159.40,261.64 L160.20,262.00 L161.00,261.53 L161.80,262.04 L162.60,261.49 L163.40,261.68 L164.20,261.77 L165.00,262.06 L165.80,262.16 L166.60,261.25 L167.40,261.31 L168.20,261.82 L169.00,262.18 L169.80,261.88 L170.60,261.63 L171.40,262.45 L172.20,261.68 L173.00,261.46 L173.80,261.45 L174.60,261.45 L175.40,262.32 L176.20,261.61 L177.00,262.37 L177.80,262.58 L178.60,262.77 L179.40,262.57 L180.20,262.14 L181.00,262.41 L181.80,262.69 L182.60,262.58 L183.40,262.10 L184.20,262.70 L185.00,261.94 L185.80,262.21 L186.60,263.07 L187.40,262.47 L188.20,262.25 L189.00,262.90" fill="none" stroke="#c8964a" stroke-width="1.65"/>
<path d="M17.00,239.31 L17.80,239.92 L18.60,239.88 L19.40,240.18 L20.20,239.52 L21.00,239.51 L21.80,240.00 L22.60,239.93 L23.40,239.59 L24.20,239.98 L25.00,239.70 L25.80,240.09 L26.60,239.44 L27.40,239.55 L28.20,240.24 L29.00,239.71 L29.80,239.62 L30.60,240.17 L31.40,240.01 L32.20,239.54 L33.00,239.95 L33.80,240.07 L34.60,239.58 L35.40,240.08 L36.20,239.56 L37.00,239.78 L37.80,239.54 L38.60,239.67 L39.40,240.45 L40.20,239.89 L41.00,240.48 L41.80,239.94 L42.60,240.12 L43.40,240.40 L44.20,240.22 L45.00,239.65 L45.80,240.14 L46.60,240.19 L47.40,239.75 L48.20,239.68 L49.00,240.46 L49.80,240.11 L50.60,239.80 L51.40,240.07 L52.20,239.85 L53.00,240.44 L53.80,240.15 L54.60,239.76 L55.40,240.48 L56.20,239.77 L57.00,239.97 L57.80,239.72 L58.60,240.45 L59.40,239.83 L60.20,240.25 L61.00,239.83 L61.80,240.22 L62.60,240.44 L63.40,240.30 L64.20,240.23 L65.00,240.27 L65.80,240.23 L66.60,240.40 L67.40,239.90 L68.20,240.29 L69.00,240.07 L69.80,240.70 L70.60,240.79 L71.40,239.92 L72.20,240.01 L73.00,240.58 L73.80,240.46 L74.60,239.92 L75.40,240.61 L76.20,240.86 L77.00,240.35 L77.80,240.28 L78.60,240.51 L79.40,240.89 L80.20,240.23 L81.00,240.28 L81.80,240.17 L82.60,240.62 L83.40,240.47 L84.20,240.27 L85.00,240.41 L85.80,240.06 L86.60,240.35 L87.40,241.03 L88.20,240.64 L89.00,240.35 L89.80,241.01 L90.60,240.45 L91.40,240.35 L92.20,240.14 L93.00,240.26 L93.80,240.32 L94.60,240.37 L95.40,241.02 L96.20,240.42 L97.00,240.41 L97.80,240.78 L98.60,241.10 L99.40,240.48 L100.20,240.97 L101.00,240.62 L101.80,240.85 L102.60,240.92 L103.40,241.30 L104.20,241.15 L105.00,240.94 L105.80,241.31 L106.60,240.87 L107.40,240.93 L108.20,241.54 L109.00,241.17 L109.80,241.43 L110.60,241.01 L111.40,241.65 L112.20,241.38 L113.00,241.05 L113.80,241.78 L114.60,241.35 L115.40,241.26 L116.20,241.22 L117.00,241.10 L117.80,241.23 L118.60,241.76 L119.40,241.25 L120.20,241.40 L121.00,241.63 L121.80,241.76 L122.60,241.64 L123.40,242.08 L124.20,241.59 L125.00,241.74 L125.80,241.83 L126.60,241.57 L127.40,241.70 L128.20,241.66 L129.00,242.28 L129.80,241.74 L130.60,242.30 L131.40,241.89 L132.20,242.35 L133.00,242.40 L133.80,242.13 L134.60,242.75 L135.40,242.51 L136.20,242.45 L137.00,241.97 L137.80,242.37 L138.60,242.27 L139.40,242.51 L140.20,243.01 L141.00,242.98 L141.80,242.21 L142.60,242.87 L143.40,243.16 L144.20,242.81 L145.00,242.40 L145.80,243.20 L146.60,242.80 L147.40,243.39 L148.20,243.32 L149.00,243.32 L149.80,243.46 L150.60,242.63 L151.40,243.39 L152.20,242.94 L153.00,242.81 L153.80,243.09 L154.60,243.34 L155.40,242.79 L156.20,243.27 L157.00,243.64 L157.80,243.39 L158.60,243.46 L159.40,243.27 L160.20,243.98 L161.00,243.29 L161.80,243.77 L162.60,243.77 L163.40,243.16 L164.20,244.19 L165.00,243.47 L165.80,244.26 L166.60,244.24 L167.40,244.25 L168.20,244.24 L169.00,243.82 L169.80,243.90 L170.60,243.84 L171.40,244.47 L172.20,243.60 L173.00,243.74 L173.80,244.60 L174.60,244.49 L175.40,244.42 L176.20,244.72 L177.00,244.32 L177.80,244.67 L178.60,244.31 L179.40,244.81 L180.20,244.01 L181.00,244.42 L181.80,244.59 L182.60,244.85 L183.40,244.51 L184.20,244.81 L185.00,245.13 L185.80,244.62 L186.60,244.44 L187.40,244.31 L188.20,245.18 L189.00,244.83" fill="none" stroke="#6634e2" stroke-width="1.65"/>
<line x1="101.5" y1="250.5" x2="101.5" y2="302.3" stroke="#6a36d6" stroke-width="1.2"/>
<rect x="100.9" y="258.0" width="1.3" height="1.6" fill="#d82040"/>
<rect x="100.9" y="269.8" width="1.3" height="1.6" fill="#d82040"/>
<rect x="100.9" y="284.8" width="1.3" height="1.6" fill="#d82040"/>
<path d="M16.4,176.8 H190.0 V302.3" fill="none" stroke="#7e888c" stroke-width="1.2"/>
<path d="M16.4,176.8 V302.3 H190.0" fill="none" stroke="#3e4a50" stroke-width="1.2"/>
<text x="16.40" y="310.6" font-size="7.5" font-weight="bold" text-anchor="middle" >15</text>
<text x="38.10" y="310.6" font-size="7.5" font-weight="bold" text-anchor="middle" >16</text>
<text x="59.80" y="310.6" font-size="7.5" font-weight="bold" text-anchor="middle" >17</text>
<text x="81.50" y="310.6" font-size="7.5" font-weight="bold" text-anchor="middle" >18</text>
<text x="103.20" y="310.6" font-size="7.5" font-weight="bold" text-anchor="middle" >19</text>
<text x="124.90" y="310.6" font-size="7.5" font-weight="bold" text-anchor="middle" >20</text>
<text x="146.60" y="310.6" font-size="7.5" font-weight="bold" text-anchor="middle" >21</text>
<text x="168.30" y="310.6" font-size="7.5" font-weight="bold" text-anchor="middle" >22</text>
<text x="190.00" y="310.6" font-size="7.5" font-weight="bold" text-anchor="middle" >23</text>
<text x="103.20" y="322.3" font-size="8.8" font-weight="bold" text-anchor="middle" >Angle (2 theta)</text>
<text transform="translate(9.1,245.2) rotate(-90)" font-size="9" font-weight="bold" text-anchor="middle">Intensity (a.u.)</text>
<text x="2.6" y="171.0" font-size="10.6" font-weight="bold" text-anchor="start" >(c)</text>
<text x="103.10" y="231.2" font-size="11" font-weight="bold" text-anchor="middle" style="stroke-width:0.1px">(003)</text>
<line x1="18.2" y1="184.2" x2="32.9" y2="184.2" stroke="#646e74" stroke-width="1.1"/>
<text x="35.9" y="186.95" font-size="8.1" font-weight="bold" letter-spacing="0.08">LCO-TiO<tspan font-size="4.6" dy="1.9" dx="-0.3" letter-spacing="0">2</tspan><tspan dy="-1.9" dx="-1.0" letter-spacing="0.4">(0)</tspan></text>
<line x1="18.2" y1="196.6" x2="32.9" y2="196.6" stroke="#4c54a8" stroke-width="1.1"/>
<text x="35.9" y="199.35" font-size="8.1" font-weight="bold" letter-spacing="0.08">LCO-TiO<tspan font-size="4.6" dy="1.9" dx="-0.3" letter-spacing="0">2</tspan><tspan dy="-1.9" dx="-1.0" letter-spacing="0.4">(60)</tspan></text>
<line x1="116.9" y1="183.9" x2="132.7" y2="183.9" stroke="#d6d09a" stroke-width="1.1"/>
<text x="135.1" y="186.65" font-size="8.1" font-weight="bold" letter-spacing="0.08">LCO-TiO<tspan font-size="4.6" dy="1.9" dx="-0.3" letter-spacing="0">2</tspan><tspan dy="-1.9" dx="-1.0" letter-spacing="0.4">(90)</tspan></text>
<line x1="116.9" y1="196.4" x2="132.7" y2="196.4" stroke="#8058e0" stroke-width="1.1"/>
<text x="135.1" y="199.15" font-size="8.1" font-weight="bold" letter-spacing="0.08">LCO-TiO<tspan font-size="4.6" dy="1.9" dx="-0.3" letter-spacing="0">2</tspan><tspan dy="-1.9" dx="-1.0" letter-spacing="0.4">(120)</tspan></text>
<rect x="116.9" y="205.79999999999998" width="15.799999999999983" height="6.8" fill="#f01818"/>
<text x="135.1" y="211.95" font-size="8.1" font-weight="bold" letter-spacing="0.08">LiCoO<tspan font-size="4.6" dy="1.9">2</tspan></text>
<path d="M211.00,286.78 L211.80,287.08 L212.60,286.94 L213.40,286.94 L214.20,287.27 L215.00,286.77 L215.80,287.48 L216.60,287.10 L217.40,286.76 L218.20,287.37 L219.00,286.95 L219.80,287.66 L220.60,287.44 L221.40,287.04 L222.20,287.76 L223.00,287.23 L223.80,287.83 L224.60,287.02 L225.40,287.32 L226.20,287.66 L227.00,287.38 L227.80,287.48 L228.60,287.31 L229.40,287.80 L230.20,288.06 L231.00,287.61 L231.80,287.99 L232.60,287.90 L233.40,288.09 L234.20,288.40 L235.00,288.03 L235.80,287.92 L236.60,288.07 L237.40,288.34 L238.20,288.65 L239.00,288.70 L239.80,288.15 L240.60,288.02 L241.40,288.85 L242.20,288.25 L243.00,288.74 L243.80,288.32 L244.60,288.70 L245.40,288.97 L246.20,289.23 L247.00,288.75 L247.80,288.87 L248.60,289.26 L249.40,289.05 L250.20,288.72 L251.00,288.97 L251.80,288.91 L252.60,289.40 L253.40,289.32 L254.20,288.82 L255.00,289.20 L255.80,289.44 L256.60,289.47 L257.40,289.33 L258.20,289.15 L259.00,289.00 L259.80,289.35 L260.60,288.82 L261.40,288.53 L262.20,288.46 L263.00,288.41 L263.80,288.31 L264.60,288.06 L265.40,288.01 L266.20,288.29 L267.00,287.50 L267.80,287.32 L268.60,287.25 L269.40,287.03 L270.20,287.59 L271.00,287.25 L271.80,287.00 L272.60,285.98 L273.40,286.27 L274.20,285.98 L275.00,285.14 L275.80,284.81 L276.60,284.63 L277.40,284.11 L278.20,283.69 L279.00,283.37 L279.80,283.17 L280.60,282.70 L281.40,282.29 L282.20,281.68 L283.00,280.54 L283.80,280.31 L284.60,279.35 L285.40,278.99 L286.20,278.21 L287.00,278.10 L287.80,277.11 L288.60,276.59 L289.40,275.94 L290.20,275.71 L291.00,275.33 L291.80,274.45 L292.60,274.83 L293.40,274.17 L294.20,273.86 L295.00,274.40 L295.80,273.69 L296.60,274.29 L297.40,274.05 L298.20,274.95 L299.00,274.77 L299.80,276.13 L300.60,276.40 L301.40,277.00 L302.20,277.27 L303.00,277.74 L303.80,278.55 L304.60,278.84 L305.40,279.97 L306.20,280.21 L307.00,281.00 L307.80,281.56 L308.60,281.65 L309.40,282.46 L310.20,282.66 L311.00,283.24 L311.80,283.74 L312.60,285.08 L313.40,285.12 L314.20,285.54 L315.00,286.29 L315.80,286.30 L316.60,286.65 L317.40,287.07 L318.20,287.58 L319.00,288.16 L319.80,288.55 L320.60,289.18 L321.40,289.50 L322.20,290.41 L323.00,290.49 L323.80,291.19 L324.60,291.30 L325.40,291.65 L326.20,292.38 L327.00,291.87 L327.80,292.97 L328.60,293.20 L329.40,292.72 L330.20,292.94 L331.00,293.45 L331.80,293.60 L332.60,294.14 L333.40,294.05 L334.20,294.60 L335.00,294.58 L335.80,294.63 L336.60,294.69 L337.40,295.23 L338.20,294.96 L339.00,295.39 L339.80,295.28 L340.60,295.83 L341.40,295.98 L342.20,295.93 L343.00,296.34 L343.80,296.43 L344.60,295.94 L345.40,296.54 L346.20,296.58 L347.00,296.77 L347.80,296.78 L348.60,297.24 L349.40,297.24 L350.20,297.35 L351.00,296.85 L351.80,297.23 L352.60,297.18 L353.40,297.94 L354.20,297.66 L355.00,297.32 L355.80,297.99 L356.60,297.44 L357.40,297.88 L358.20,297.74 L359.00,297.80 L359.80,298.38 L360.60,298.68 L361.40,298.13 L362.20,298.19 L363.00,298.93 L363.80,298.95 L364.60,298.92 L365.40,298.95 L366.20,298.49 L367.00,298.43 L367.80,298.58 L368.60,299.02 L369.40,298.60 L370.20,299.26 L371.00,298.73 L371.80,299.65 L372.60,299.48 L373.40,299.53 L374.20,299.31 L375.00,299.68 L375.80,299.85 L376.60,299.69 L377.40,299.55 L378.20,299.74 L379.00,299.97 L379.80,299.35 L380.60,299.91 L381.40,299.49 L382.20,299.89 L383.00,299.49" fill="none" stroke="#121420" stroke-width="1.65"/>
<path d="M211.00,272.13 L211.80,272.46 L212.60,272.91 L213.40,273.06 L214.20,273.17 L215.00,273.30 L215.80,272.65 L216.60,272.78 L217.40,273.08 L218.20,273.25 L219.00,272.89 L219.80,273.45 L220.60,273.08 L221.40,273.51 L222.20,273.53 L223.00,273.28 L223.80,273.45 L224.60,273.74 L225.40,273.68 L226.20,273.51 L227.00,274.14 L227.80,273.66 L228.60,273.69 L229.40,273.55 L230.20,274.37 L231.00,274.20 L231.80,274.23 L232.60,274.14 L233.40,273.91 L234.20,273.81 L235.00,274.35 L235.80,274.64 L236.60,274.86 L237.40,274.11 L238.20,274.15 L239.00,274.22 L239.80,274.37 L240.60,274.97 L241.40,274.97 L242.20,275.17 L243.00,274.85 L243.80,274.72 L244.60,275.42 L245.40,275.60 L246.20,274.87 L247.00,274.88 L247.80,274.98 L248.60,275.22 L249.40,275.57 L250.20,275.64 L251.00,275.26 L251.80,275.24 L252.60,275.60 L253.40,276.02 L254.20,276.04 L255.00,275.20 L255.80,275.24 L256.60,275.16 L257.40,275.58 L258.20,275.45 L259.00,275.66 L259.80,275.22 L260.60,275.61 L261.40,275.46 L262.20,274.92 L263.00,275.40 L263.80,274.99 L264.60,274.33 L265.40,274.87 L266.20,274.65 L267.00,274.57 L267.80,274.30 L268.60,273.98 L269.40,274.13 L270.20,273.88 L271.00,273.14 L271.80,273.21 L272.60,272.92 L273.40,272.41 L274.20,272.35 L275.00,271.54 L275.80,271.71 L276.60,270.98 L277.40,270.12 L278.20,269.79 L279.00,269.17 L279.80,269.01 L280.60,268.48 L281.40,267.85 L282.20,267.36 L283.00,266.86 L283.80,266.91 L284.60,265.60 L285.40,265.79 L286.20,264.63 L287.00,264.24 L287.80,263.52 L288.60,263.52 L289.40,263.48 L290.20,262.97 L291.00,262.11 L291.80,262.29 L292.60,261.68 L293.40,261.43 L294.20,261.28 L295.00,261.55 L295.80,261.02 L296.60,261.50 L297.40,261.19 L298.20,261.05 L299.00,261.11 L299.80,262.04 L300.60,261.98 L301.40,262.55 L302.20,262.30 L303.00,263.07 L303.80,263.64 L304.60,263.75 L305.40,264.62 L306.20,264.78 L307.00,264.99 L307.80,265.96 L308.60,266.21 L309.40,266.79 L310.20,267.49 L311.00,267.99 L311.80,268.08 L312.60,268.61 L313.40,269.40 L314.20,269.72 L315.00,269.57 L315.80,270.59 L316.60,270.78 L317.40,270.90 L318.20,270.97 L319.00,271.92 L319.80,272.14 L320.60,272.45 L321.40,272.70 L322.20,273.37 L323.00,273.42 L323.80,273.91 L324.60,273.89 L325.40,273.93 L326.20,274.35 L327.00,274.49 L327.80,275.41 L328.60,275.18 L329.40,275.33 L330.20,276.30 L331.00,276.30 L331.80,276.00 L332.60,276.22 L333.40,277.06 L334.20,277.48 L335.00,277.52 L335.80,277.68 L336.60,277.73 L337.40,277.59 L338.20,278.48 L339.00,278.64 L339.80,278.51 L340.60,278.15 L341.40,279.06 L342.20,278.92 L343.00,279.28 L343.80,278.96 L344.60,278.81 L345.40,279.73 L346.20,279.19 L347.00,279.93 L347.80,279.73 L348.60,279.92 L349.40,280.06 L350.20,280.25 L351.00,279.58 L351.80,279.73 L352.60,280.27 L353.40,279.98 L354.20,280.45 L355.00,280.75 L355.80,280.63 L356.60,280.30 L357.40,280.89 L358.20,281.06 L359.00,280.71 L359.80,280.62 L360.60,280.96 L361.40,280.77 L362.20,280.98 L363.00,281.01 L363.80,280.78 L364.60,281.40 L365.40,281.16 L366.20,281.44 L367.00,281.34 L367.80,281.36 L368.60,281.76 L369.40,281.27 L370.20,281.59 L371.00,281.28 L371.80,281.84 L372.60,281.54 L373.40,281.93 L374.20,281.76 L375.00,281.86 L375.80,282.09 L376.60,281.58 L377.40,282.26 L378.20,282.52 L379.00,282.39 L379.80,282.36 L380.60,282.55 L381.40,282.23 L382.20,282.46 L383.00,281.98" fill="none" stroke="#2428d4" stroke-width="1.65"/>
<path d="M211.00,263.60 L211.80,263.76 L212.60,263.94 L213.40,263.30 L214.20,263.23 L215.00,263.74 L215.80,263.39 L216.60,263.73 L217.40,263.86 L218.20,263.06 L219.00,263.34 L219.80,263.14 L220.60,263.25 L221.40,263.84 L222.20,263.08 L223.00,263.24 L223.80,263.01 L224.60,262.93 L225.40,262.85 L226.20,262.75 L227.00,263.46 L227.80,263.32 L228.60,262.93 L229.40,263.31 L230.20,263.43 L231.00,262.71 L231.80,263.06 L232.60,262.49 L233.40,262.60 L234.20,262.62 L235.00,262.66 L235.80,262.78 L236.60,262.46 L237.40,262.40 L238.20,262.75 L239.00,262.28 L239.80,262.54 L240.60,262.53 L241.40,262.62 L242.20,261.88 L243.00,261.83 L243.80,262.27 L244.60,261.72 L245.40,261.87 L246.20,261.61 L247.00,262.13 L247.80,261.64 L248.60,261.26 L249.40,261.89 L250.20,260.92 L251.00,261.10 L251.80,261.39 L252.60,261.01 L253.40,261.37 L254.20,261.47 L255.00,260.94 L255.80,260.79 L256.60,261.13 L257.40,260.69 L258.20,260.58 L259.00,260.27 L259.80,260.33 L260.60,260.19 L261.40,259.18 L262.20,259.07 L263.00,258.68 L263.80,258.65 L264.60,258.46 L265.40,258.29 L266.20,258.04 L267.00,257.94 L267.80,257.77 L268.60,256.86 L269.40,256.77 L270.20,257.17 L271.00,257.06 L271.80,255.84 L272.60,255.75 L273.40,255.70 L274.20,255.27 L275.00,254.60 L275.80,254.98 L276.60,254.37 L277.40,253.82 L278.20,253.41 L279.00,252.90 L279.80,252.69 L280.60,253.15 L281.40,252.81 L282.20,251.86 L283.00,251.75 L283.80,250.87 L284.60,251.44 L285.40,250.41 L286.20,250.62 L287.00,250.53 L287.80,249.94 L288.60,250.17 L289.40,249.29 L290.20,249.05 L291.00,248.89 L291.80,248.86 L292.60,248.94 L293.40,249.11 L294.20,248.81 L295.00,248.85 L295.80,249.12 L296.60,250.18 L297.40,250.55 L298.20,250.99 L299.00,251.22 L299.80,251.49 L300.60,251.25 L301.40,251.90 L302.20,252.03 L303.00,251.86 L303.80,252.85 L304.60,252.82 L305.40,252.83 L306.20,252.67 L307.00,253.50 L307.80,253.85 L308.60,253.82 L309.40,253.92 L310.20,254.70 L311.00,254.37 L311.80,255.04 L312.60,254.88 L313.40,254.62 L314.20,255.08 L315.00,255.94 L315.80,255.41 L316.60,255.44 L317.40,256.21 L318.20,256.19 L319.00,256.44 L319.80,256.52 L320.60,256.53 L321.40,257.01 L322.20,257.00 L323.00,257.24 L323.80,257.33 L324.60,257.69 L325.40,257.76 L326.20,258.59 L327.00,258.61 L327.80,258.23 L328.60,258.95 L329.40,259.14 L330.20,259.47 L331.00,258.86 L331.80,259.01 L332.60,259.26 L333.40,259.83 L334.20,259.85 L335.00,260.21 L335.80,259.72 L336.60,259.60 L337.40,260.37 L338.20,260.18 L339.00,260.58 L339.80,260.78 L340.60,260.45 L341.40,260.90 L342.20,261.10 L343.00,260.87 L343.80,260.70 L344.60,261.05 L345.40,261.01 L346.20,261.13 L347.00,261.01 L347.80,260.55 L348.60,260.92 L349.40,260.86 L350.20,261.28 L351.00,260.83 L351.80,260.74 L352.60,260.73 L353.40,260.59 L354.20,261.25 L355.00,261.19 L355.80,261.08 L356.60,261.14 L357.40,260.49 L358.20,260.87 L359.00,261.06 L359.80,260.98 L360.60,260.95 L361.40,260.76 L362.20,260.95 L363.00,260.98 L363.80,260.64 L364.60,261.02 L365.40,261.08 L366.20,261.42 L367.00,260.80 L367.80,261.24 L368.60,261.44 L369.40,260.62 L370.20,261.37 L371.00,260.51 L371.80,260.51 L372.60,260.97 L373.40,260.82 L374.20,261.05 L375.00,261.42 L375.80,261.25 L376.60,261.45 L377.40,260.89 L378.20,261.17 L379.00,260.87 L379.80,261.03 L380.60,260.58 L381.40,260.81 L382.20,261.49 L383.00,261.28" fill="none" stroke="#c8964a" stroke-width="1.65"/>
<path d="M211.00,246.30 L211.80,246.75 L212.60,246.10 L213.40,246.77 L214.20,246.28 L215.00,246.55 L215.80,246.79 L216.60,246.27 L217.40,246.65 L218.20,246.91 L219.00,246.60 L219.80,246.34 L220.60,246.19 L221.40,246.92 L222.20,246.29 L223.00,246.79 L223.80,246.51 L224.60,246.14 L225.40,246.35 L226.20,246.33 L227.00,246.54 L227.80,246.18 L228.60,246.45 L229.40,246.46 L230.20,246.18 L231.00,246.70 L231.80,246.38 L232.60,246.68 L233.40,246.73 L234.20,246.56 L235.00,246.49 L235.80,246.52 L236.60,246.03 L237.40,246.53 L238.20,246.70 L239.00,246.45 L239.80,246.44 L240.60,246.57 L241.40,246.34 L242.20,246.66 L243.00,246.56 L243.80,245.81 L244.60,246.44 L245.40,246.22 L246.20,246.31 L247.00,246.04 L247.80,246.55 L248.60,245.91 L249.40,246.16 L250.20,246.24 L251.00,246.02 L251.80,245.65 L252.60,245.64 L253.40,246.07 L254.20,246.27 L255.00,245.66 L255.80,246.17 L256.60,245.61 L257.40,245.90 L258.20,245.67 L259.00,245.43 L259.80,246.05 L260.60,245.56 L261.40,245.00 L262.20,245.27 L263.00,244.89 L263.80,245.26 L264.60,245.18 L265.40,244.74 L266.20,244.52 L267.00,244.14 L267.80,244.81 L268.60,244.00 L269.40,244.07 L270.20,244.22 L271.00,243.51 L271.80,243.62 L272.60,243.87 L273.40,243.64 L274.20,243.42 L275.00,242.72 L275.80,242.76 L276.60,242.47 L277.40,242.56 L278.20,242.70 L279.00,242.22 L279.80,242.39 L280.60,242.24 L281.40,241.58 L282.20,241.38 L283.00,241.55 L283.80,240.60 L284.60,240.38 L285.40,240.11 L286.20,240.29 L287.00,240.21 L287.80,239.58 L288.60,239.18 L289.40,239.29 L290.20,239.00 L291.00,239.59 L291.80,238.93 L292.60,238.90 L293.40,239.11 L294.20,239.19 L295.00,239.30 L295.80,239.77 L296.60,239.63 L297.40,240.41 L298.20,240.85 L299.00,241.09 L299.80,241.13 L300.60,241.65 L301.40,241.13 L302.20,241.69 L303.00,242.05 L303.80,242.18 L304.60,242.05 L305.40,242.64 L306.20,242.83 L307.00,242.96 L307.80,243.12 L308.60,243.25 L309.40,243.11 L310.20,243.04 L311.00,243.98 L311.80,243.36 L312.60,243.48 L313.40,244.34 L314.20,244.03 L315.00,243.80 L315.80,244.07 L316.60,244.24 L317.40,244.24 L318.20,244.76 L319.00,244.94 L319.80,244.93 L320.60,245.10 L321.40,244.77 L322.20,245.73 L323.00,245.14 L323.80,245.86 L324.60,245.58 L325.40,245.96 L326.20,245.86 L327.00,246.13 L327.80,246.23 L328.60,246.03 L329.40,245.86 L330.20,245.83 L331.00,246.68 L331.80,246.40 L332.60,246.36 L333.40,246.59 L334.20,246.45 L335.00,246.44 L335.80,246.94 L336.60,246.56 L337.40,246.56 L338.20,247.20 L339.00,247.18 L339.80,247.00 L340.60,247.30 L341.40,247.04 L342.20,246.89 L343.00,247.00 L343.80,247.45 L344.60,246.64 L345.40,246.78 L346.20,247.35 L347.00,247.00 L347.80,247.29 L348.60,247.01 L349.40,246.99 L350.20,246.95 L351.00,247.13 L351.80,247.39 L352.60,247.53 L353.40,247.41 L354.20,247.64 L355.00,247.32 L355.80,247.33 L356.60,246.87 L357.40,247.26 L358.20,247.65 L359.00,247.01 L359.80,247.04 L360.60,247.59 L361.40,247.19 L362.20,247.10 L363.00,246.95 L363.80,247.57 L364.60,246.91 L365.40,247.11 L366.20,247.13 L367.00,247.04 L367.80,247.63 L368.60,247.44 L369.40,247.24 L370.20,247.66 L371.00,247.44 L371.80,247.28 L372.60,247.34 L373.40,247.71 L374.20,247.21 L375.00,247.55 L375.80,246.89 L376.60,247.42 L377.40,247.36 L378.20,247.47 L379.00,247.09 L379.80,247.39 L380.60,247.59 L381.40,247.45 L382.20,246.97 L383.00,247.60" fill="none" stroke="#6634e2" stroke-width="1.65"/>
<line x1="295.6" y1="274.3" x2="295.6" y2="302.0" stroke="#c860a8" stroke-width="1.4"/>
<path d="M210.4,177.3 H384.0 V302.0" fill="none" stroke="#7e888c" stroke-width="1.2"/>
<path d="M210.4,177.3 V302.0 H384.0" fill="none" stroke="#3e4a50" stroke-width="1.2"/>
<text x="210.40" y="310.6" font-size="7.5" font-weight="bold" text-anchor="middle" >15</text>
<text x="232.10" y="310.6" font-size="7.5" font-weight="bold" text-anchor="middle" >16</text>
<text x="253.80" y="310.6" font-size="7.5" font-weight="bold" text-anchor="middle" >17</text>
<text x="275.50" y="310.6" font-size="7.5" font-weight="bold" text-anchor="middle" >18</text>
<text x="297.20" y="310.6" font-size="7.5" font-weight="bold" text-anchor="middle" >19</text>
<text x="318.90" y="310.6" font-size="7.5" font-weight="bold" text-anchor="middle" >20</text>
<text x="340.60" y="310.6" font-size="7.5" font-weight="bold" text-anchor="middle" >21</text>
<text x="362.30" y="310.6" font-size="7.5" font-weight="bold" text-anchor="middle" >22</text>
<text x="384.00" y="310.6" font-size="7.5" font-weight="bold" text-anchor="middle" >23</text>
<text x="297.20" y="322.3" font-size="8.8" font-weight="bold" text-anchor="middle" >Angle (2 theta)</text>
<text transform="translate(203.9,245.8) rotate(-90)" font-size="9" font-weight="bold" text-anchor="middle">Intensity (a.u.)</text>
<text x="195.0" y="171.0" font-size="10.6" font-weight="bold" text-anchor="start" >(d)</text>
<text x="292.80" y="230.0" font-size="11" font-weight="bold" text-anchor="middle" style="stroke-width:0.1px">(003)</text>
<line x1="212.79999999999998" y1="184.2" x2="227.5" y2="184.2" stroke="#646e74" stroke-width="1.1"/>
<text x="230.5" y="186.95" font-size="8.1" font-weight="bold" letter-spacing="0.08">LCO-TiO<tspan font-size="4.6" dy="1.9" dx="-0.3" letter-spacing="0">2</tspan><tspan dy="-1.9" dx="-1.0" letter-spacing="0.4">(0)</tspan></text>
<line x1="212.79999999999998" y1="196.6" x2="227.5" y2="196.6" stroke="#4c54a8" stroke-width="1.1"/>
<text x="230.5" y="199.35" font-size="8.1" font-weight="bold" letter-spacing="0.08">LCO-TiO<tspan font-size="4.6" dy="1.9" dx="-0.3" letter-spacing="0">2</tspan><tspan dy="-1.9" dx="-1.0" letter-spacing="0.4">(60)</tspan></text>
<line x1="311.5" y1="183.9" x2="327.29999999999995" y2="183.9" stroke="#d6d09a" stroke-width="1.1"/>
<text x="329.7" y="186.65" font-size="8.1" font-weight="bold" letter-spacing="0.08">LCO-TiO<tspan font-size="4.6" dy="1.9" dx="-0.3" letter-spacing="0">2</tspan><tspan dy="-1.9" dx="-1.0" letter-spacing="0.4">(90)</tspan></text>
<line x1="311.5" y1="196.4" x2="327.29999999999995" y2="196.4" stroke="#8058e0" stroke-width="1.1"/>
<text x="329.7" y="199.15" font-size="8.1" font-weight="bold" letter-spacing="0.08">LCO-TiO<tspan font-size="4.6" dy="1.9" dx="-0.3" letter-spacing="0">2</tspan><tspan dy="-1.9" dx="-1.0" letter-spacing="0.4">(120)</tspan></text>
<rect x="311.5" y="205.79999999999998" width="15.799999999999955" height="6.8" fill="#f01818"/>
<text x="329.7" y="211.95" font-size="8.1" font-weight="bold" letter-spacing="0.08">LiCoO<tspan font-size="4.6" dy="1.9">2</tspan></text>
</svg>
</body></html>
